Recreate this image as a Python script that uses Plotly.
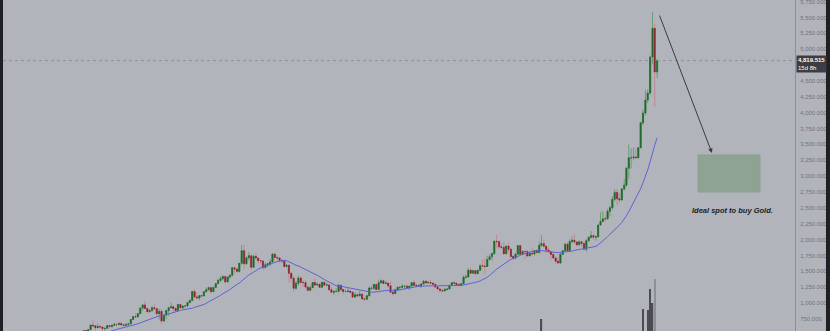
import numpy as np
import pandas as pd
import plotly.graph_objects as go

# ---------------- data (monthly gold candles) ----------------
months = pd.date_range("2005-01-01", "2026-04-01", freq="MS")

first_open = 438.0

close = [
    422, 434, 428, 435, 417, 436, 429, 433, 473, 470, 495, 513,
    569, 556, 582, 654, 643, 614, 633, 623, 599, 604, 646, 632,
    650, 665, 662, 681, 657, 650, 665, 673, 743, 789, 783, 834,
    923, 972, 917, 864, 885, 928, 913, 833, 871, 718, 814, 882,
    928, 942, 916, 883, 979, 926, 955, 955, 1008, 1040, 1182, 1097,
    1081, 1118, 1113, 1180, 1213, 1244, 1181, 1248, 1307, 1357, 1386, 1421,
    1333, 1410, 1439, 1556, 1536, 1500, 1628, 1826, 1620, 1714, 1746, 1565,
    1738, 1710, 1669, 1664, 1560, 1604, 1622, 1648, 1772, 1719, 1711, 1675,
    1663, 1578, 1596, 1472, 1393, 1234, 1313, 1396, 1327, 1323, 1253, 1202,
    1244, 1326, 1284, 1296, 1250, 1327, 1282, 1287, 1211, 1171, 1182, 1184,
    1283, 1213, 1183, 1182, 1190, 1172, 1095, 1132, 1115, 1142, 1065, 1061,
    1117, 1238, 1233, 1294, 1215, 1321, 1351, 1309, 1316, 1273, 1173, 1151,
    1211, 1249, 1249, 1268, 1268, 1242, 1269, 1322, 1280, 1271, 1275, 1303,
    1345, 1318, 1325, 1315, 1299, 1253, 1224, 1201, 1192, 1215, 1222, 1282,
    1321, 1313, 1292, 1284, 1305, 1409, 1413, 1520, 1472, 1513, 1464, 1517,
    1589, 1585, 1577, 1687, 1730, 1781, 1975, 1967, 1886, 1879, 1776, 1898,
    1847, 1734, 1708, 1769, 1906, 1770, 1814, 1813, 1743, 1783, 1774, 1829,
    1797, 1909, 1937, 1897, 1837, 1807, 1766, 1711, 1661, 1633, 1768, 1824,
    1928, 1827, 1969, 1990, 1963, 1919, 1965, 1940, 1849, 1983, 2036, 2063,
    2039, 2044, 2230, 2286, 2327, 2326, 2447, 2503, 2634, 2744, 2643, 2624,
    2798, 2858, 3124, 3288, 3289, 3303, 3290, 3448, 3840, 3994, 4199, 4309,
    4876, 5330, 4640, 4819.515,
]

high = [
    444, 437, 446, 438, 436, 442, 438, 447, 474, 478, 497, 541,
    572, 574, 585, 654, 730, 645, 675, 649, 631, 608, 650, 640,
    652, 690, 670, 695, 691, 672, 682, 676, 745, 791, 846, 839,
    933, 976, 1033, 925, 902, 946, 988, 915, 912, 905, 826, 889,
    937, 1006, 964, 924, 981, 989, 963, 966, 1024, 1070, 1195, 1227,
    1161, 1125, 1134, 1180, 1249, 1265, 1245, 1250, 1307, 1388, 1424, 1431,
    1423, 1413, 1447, 1575, 1577, 1556, 1632, 1913, 1921, 1731, 1803, 1764,
    1763, 1791, 1720, 1678, 1667, 1640, 1630, 1693, 1790, 1796, 1755, 1724,
    1697, 1682, 1617, 1605, 1488, 1424, 1348, 1433, 1424, 1362, 1361, 1267,
    1280, 1332, 1392, 1331, 1315, 1332, 1345, 1322, 1288, 1255, 1208, 1238,
    1308, 1290, 1224, 1224, 1232, 1205, 1175, 1170, 1157, 1191, 1142, 1088,
    1123, 1263, 1283, 1303, 1304, 1362, 1375, 1367, 1352, 1326, 1337, 1191,
    1220, 1264, 1263, 1296, 1270, 1296, 1270, 1331, 1358, 1306, 1299, 1307,
    1366, 1361, 1356, 1365, 1326, 1309, 1266, 1236, 1214, 1243, 1237, 1284,
    1326, 1347, 1324, 1310, 1306, 1439, 1453, 1555, 1557, 1518, 1516, 1525,
    1611, 1689, 1704, 1748, 1765, 1789, 1985, 2075, 1992, 1933, 1966, 1906,
    1959, 1871, 1756, 1798, 1913, 1916, 1832, 1834, 1834, 1813, 1877, 1831,
    1853, 1974, 2070, 1998, 1910, 1879, 1814, 1808, 1735, 1730, 1786, 1833,
    1949, 1959, 2009, 2048, 2079, 1983, 1987, 1949, 1953, 2009, 2052, 2135,
    2088, 2065, 2236, 2431, 2450, 2387, 2484, 2531, 2685, 2790, 2801, 2726,
    2817, 2956, 3148, 3500, 3435, 3452, 3439, 3453, 3850, 4050, 4357, 4372,
    4900, 5585, 5396, 4850,
]

low = [
    418, 411, 425, 421, 414, 414, 418, 425, 433, 456, 456, 490,
    512, 539, 537, 580, 637, 542, 608, 606, 560, 560, 607, 609,
    604, 642, 635, 661, 651, 641, 648, 640, 671, 732, 773, 781,
    843, 879, 902, 861, 846, 861, 911, 786, 741, 681, 705, 746,
    800, 924, 866, 865, 885, 917, 904, 931, 940, 998, 1040, 1075,
    1071, 1045, 1088, 1113, 1165, 1196, 1155, 1175, 1242, 1307, 1332, 1360,
    1309, 1328, 1381, 1420, 1462, 1478, 1480, 1603, 1534, 1600, 1670, 1523,
    1563, 1687, 1627, 1611, 1527, 1548, 1565, 1585, 1654, 1693, 1672, 1635,
    1626, 1555, 1563, 1321, 1338, 1180, 1207, 1272, 1292, 1251, 1226, 1181,
    1203, 1240, 1277, 1268, 1240, 1241, 1281, 1273, 1204, 1160, 1131, 1169,
    1167, 1191, 1142, 1175, 1170, 1162, 1077, 1085, 1098, 1106, 1052, 1046,
    1061, 1107, 1208, 1206, 1200, 1208, 1311, 1301, 1302, 1241, 1171, 1123,
    1146, 1200, 1195, 1243, 1214, 1236, 1205, 1265, 1271, 1260, 1264, 1236,
    1302, 1307, 1303, 1312, 1282, 1246, 1211, 1160, 1180, 1182, 1196, 1221,
    1276, 1311, 1281, 1266, 1267, 1301, 1382, 1400, 1459, 1459, 1445, 1455,
    1517, 1563, 1451, 1567, 1670, 1671, 1757, 1863, 1849, 1860, 1764, 1775,
    1802, 1717, 1677, 1704, 1765, 1750, 1767, 1688, 1721, 1746, 1758, 1753,
    1780, 1780, 1890, 1872, 1787, 1805, 1681, 1709, 1615, 1618, 1616, 1765,
    1823, 1805, 1810, 1950, 1932, 1893, 1903, 1885, 1847, 1810, 1965, 2017,
    2002, 1985, 2039, 2229, 2277, 2286, 2319, 2364, 2472, 2604, 2536, 2583,
    2614, 2772, 2833, 2957, 3121, 3247, 3268, 3269, 3436, 3800, 3960, 4150,
    4280, 4760, 4089, 4545,
]

volume_k = [
    120, 110, 115, 105, 110, 120, 100, 115, 140, 130, 135, 160,
    190, 170, 180, 210, 240, 200, 170, 150, 160, 150, 160, 140,
    150, 160, 150, 150, 160, 140, 150, 180, 190, 210, 230, 190,
    240, 250, 270, 200, 190, 180, 210, 220, 260, 250, 200, 190,
    200, 210, 190, 170, 180, 170, 160, 150, 190, 200, 230, 240,
    210, 200, 190, 210, 230, 220, 200, 190, 210, 240, 250, 200,
    230, 210, 220, 250, 240, 220, 250, 280, 270, 230, 220, 230,
    220, 230, 210, 200, 220, 210, 190, 200, 220, 210, 200, 190,
    200, 210, 200, 270, 250, 260, 230, 220, 210, 200, 190, 180,
    190, 200, 210, 180, 170, 180, 170, 160, 180, 190, 200, 180,
    200, 190, 180, 170, 170, 160, 190, 200, 170, 180, 190, 170,
    200, 230, 220, 220, 210, 240, 220, 200, 190, 200, 230, 200,
    190, 180, 190, 180, 190, 180, 170, 200, 210, 180, 170, 190,
    200, 210, 200, 190, 180, 190, 200, 210, 180, 200, 190, 200,
    190, 200, 190, 180, 200, 260, 230, 270, 240, 220, 200, 210,
    240, 260, 280, 220, 230, 230, 270, 280, 240, 210, 240, 210,
    230, 240, 220, 200, 210, 220, 190, 210, 200, 190, 220, 200,
    210, 260, 410, 230, 220, 210, 230, 200, 220, 210, 230, 200,
    210, 200, 260, 230, 240, 200, 190, 200, 210, 230, 220, 230,
    210, 200, 240, 270, 260, 220, 240, 230, 240, 250, 260, 220,
    240, 250, 270, 280, 260, 240, 230, 250, 270, 510, 280, 500,
    710, 570, 810, 200,
]

# 4,750 is hidden behind the live-price label in the reference
price_ticks = [750, 1000, 1250, 1500, 1750, 2000, 2250, 2500, 2750, 3000, 3250,
               3500, 3750, 4000, 4250, 4500, 5000, 5250, 5500, 5750]
last_price = 4819.515
countdown = "15d 8h"
note_text = "Ideal spot to buy Gold."
ma_length = 20

# ---------------- derived series ----------------
open_ = [first_open] + close[:-1]
body_hi = np.maximum(open_, close)
body_lo = np.minimum(open_, close)
ma = pd.Series(close, dtype=float).rolling(ma_length).mean()
vol_colors = ["#4b4d53" if c >= o else "#8e9097" for o, c in zip(open_, close)]

BG = "#b2b4bc"
FONT = "Liberation Sans"

fig = go.Figure()

# volume (own overlay scale, baseline sits below the visible pane)
fig.add_trace(go.Bar(
    x=months, y=volume_k, marker=dict(color=vol_colors, line=dict(width=0)),
    width=1.6e9, yaxis="y2", showlegend=False, hoverinfo="skip",
))

# full candles (wicks, lighter)
fig.add_trace(go.Candlestick(
    x=months, open=open_, high=high, low=low, close=close,
    increasing=dict(line=dict(color="#6e9c73", width=1), fillcolor="#2a7536"),
    decreasing=dict(line=dict(color="#c08a93", width=1), fillcolor="#8e2833"),
    whiskerwidth=0, showlegend=False, hoverinfo="skip",
))

# bodies on top (darker)
fig.add_trace(go.Candlestick(
    x=months, open=open_, high=body_hi, low=body_lo, close=close,
    increasing=dict(line=dict(color="#1f6a2c", width=0.6), fillcolor="#1f6a2c"),
    decreasing=dict(line=dict(color="#8a2430", width=0.6), fillcolor="#8a2430"),
    whiskerwidth=0, showlegend=False, hoverinfo="skip",
))

# moving average
fig.add_trace(go.Scatter(
    x=months, y=ma, mode="lines", line=dict(color="#5d62d6", width=1),
    showlegend=False, hoverinfo="skip",
))

fig.update_layout(
    width=830, height=331,
    margin=dict(l=3, r=35, t=0, b=0),
    paper_bgcolor=BG, plot_bgcolor=BG,
    hovermode=False,
    font=dict(family=FONT, size=6, color="#6f727a"),
    xaxis=dict(
        type="date", range=["2003-02-26", "2031-02-12"],
        visible=False, showgrid=False, rangeslider=dict(visible=False),
    ),
    yaxis=dict(
        side="right", range=[561, 5774],
        tickvals=price_ticks, tickformat=",.3f",
        showgrid=False, zeroline=False,
        showline=True, linecolor="#8c8f96", linewidth=1,
        ticks="", ticklabelstandoff=3, ticklabeloverflow="allow",
        tickfont=dict(family=FONT, size=6, color="#70737b"),
    ),
    yaxis2=dict(overlaying="y", range=[290, 3600], visible=False),
    boxgap=0.3,
)

# current price dotted line
fig.add_shape(type="line", xref="paper", x0=0, x1=1, yref="y",
              y0=last_price, y1=last_price,
              line=dict(color="#8e9198", width=1, dash="dot"))

# target box
fig.add_shape(type="rect", xref="x", yref="y",
              x0="2027-09-11", x1="2029-11-18", y0=2750, y1=3333,
              fillcolor="#8fa394", line=dict(color="#8aa08f", width=1))

# dark frame strips
fig.add_shape(type="rect", xref="paper", yref="paper",
              x0=-0.0045, x1=0.0, y0=0, y1=1,
              fillcolor="#1e2023", line=dict(width=0), layer="above")
fig.add_shape(type="rect", xref="paper", yref="paper",
              x0=1.0391, x1=1.05, y0=0, y1=1,
              fillcolor="#1e2023", line=dict(width=0), layer="above")

# arrow
fig.add_annotation(
    x="2028-03-08", y=3364, ax="2026-04-25", ay=5553,
    xref="x", yref="y", axref="x", ayref="y",
    showarrow=True, arrowhead=2, arrowsize=0.9, arrowwidth=1,
    arrowcolor="#3b3c40", text="",
)

# note text
fig.add_annotation(
    x="2028-11-28", y=2466, xref="x", yref="y", showarrow=False,
    text="<b><i>" + note_text + "</i></b>",
    font=dict(family=FONT, size=7.5, color="#1c1d20"),
)

# price label on the axis
fig.add_annotation(
    x=1, xref="paper", xanchor="left", xshift=1,
    y=last_price, yref="y", yanchor="middle", yshift=-3,
    showarrow=False, align="left",
    text="<b>" + f"{last_price:,.3f}" + "</b><br>" + countdown,
    font=dict(family=FONT, size=6, color="#ffffff"),
    bgcolor="#3a3d45", borderpad=1,
)

fig.write_html("out.html")
